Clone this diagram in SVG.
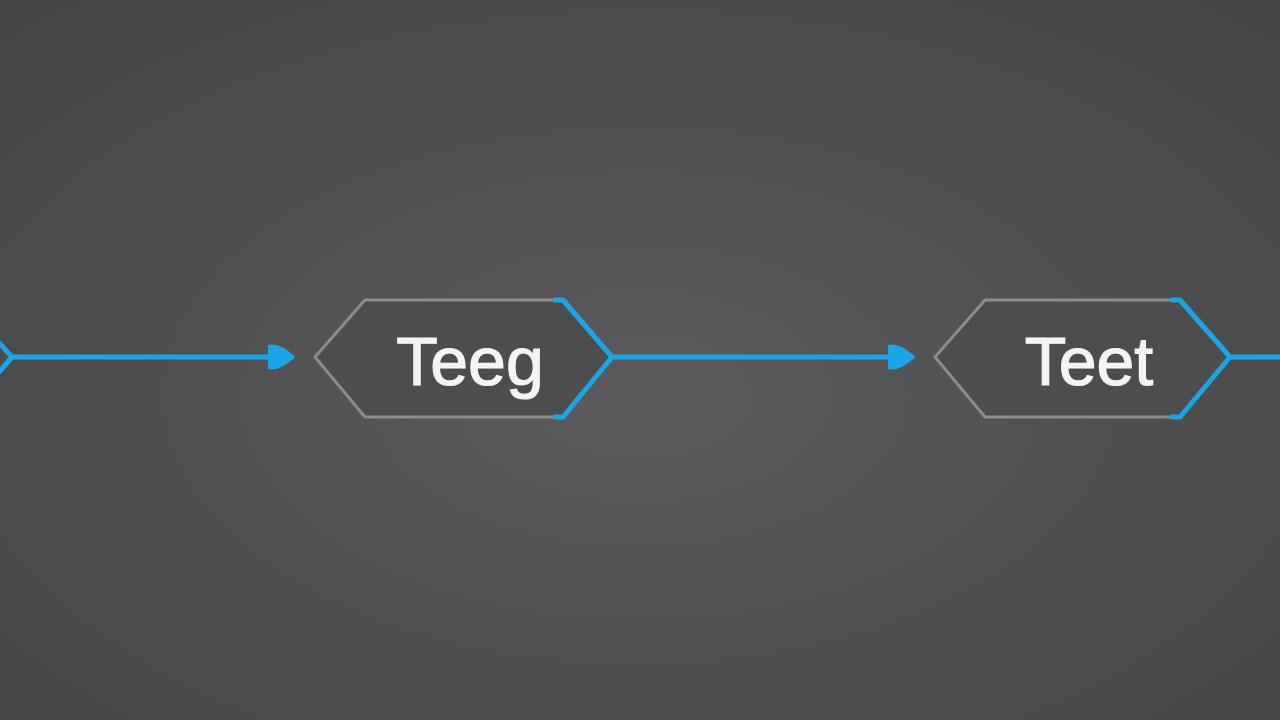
<svg xmlns="http://www.w3.org/2000/svg" width="1280" height="720" viewBox="0 0 1280 720">
<defs>
<radialGradient id="bg" cx="50%" cy="55%" r="75%">
<stop offset="0" stop-color="#5b5b5b"/>
<stop offset="1" stop-color="#444444"/>
</radialGradient>
<marker id="arr" viewBox="0 0 10 10" refX="9" refY="5" markerWidth="6" markerHeight="6" markerUnits="strokeWidth" orient="auto">
<path d="M1,1 Q5,0 10,5 Q5,10 1,9 Z" fill="#1aa6e6"/>
</marker>
<style>
.grey{fill:none;stroke:#8c8c8c;stroke-width:3;stroke-linejoin:round}
.blue{fill:none;stroke:#1aa6e6;stroke-width:5;stroke-linejoin:round;stroke-linecap:round}
.body{fill:#4d4d4d}
.lbl{font-family:"Liberation Sans",Arial,sans-serif;font-size:68px;fill:#f4f4f4;stroke:#f4f4f4;stroke-width:1.2;text-anchor:middle}
</style>
</defs>
<rect width="1280" height="720" fill="url(#bg)"/>
<g id="connectors">
<line class="blue" x1="12" y1="357" x2="292" y2="357" marker-end="url(#arr)"/>
<line class="blue" x1="612" y1="357" x2="912" y2="357" marker-end="url(#arr)"/>
<line class="blue" x1="1230" y1="357" x2="1285" y2="357"/>
</g>
<g id="node0">
<polyline class="blue" points="-40,300 12,357 -40,417"/>
</g>
<g id="node1">
<path class="body" d="M315,357 L365,300 L563,300 L612,357 L563,417 L365,417 Z"/>
<polyline class="grey" points="563,300 365,300 315,357 365,417 563,417"/>
<polyline class="blue" points="555,300 563,300 612,357 563,417 555,417"/>
<text class="lbl" x="470" y="385">Teeg</text>
</g>
<g id="node2">
<path class="body" d="M935,357 L985,300 L1180,300 L1230,357 L1180,417 L985,417 Z"/>
<polyline class="grey" points="1180,300 985,300 935,357 985,417 1180,417"/>
<polyline class="blue" points="1172,300 1180,300 1230,357 1180,417 1172,417"/>
<text class="lbl" x="1089" y="385">Teet</text>
</g>
</svg>
